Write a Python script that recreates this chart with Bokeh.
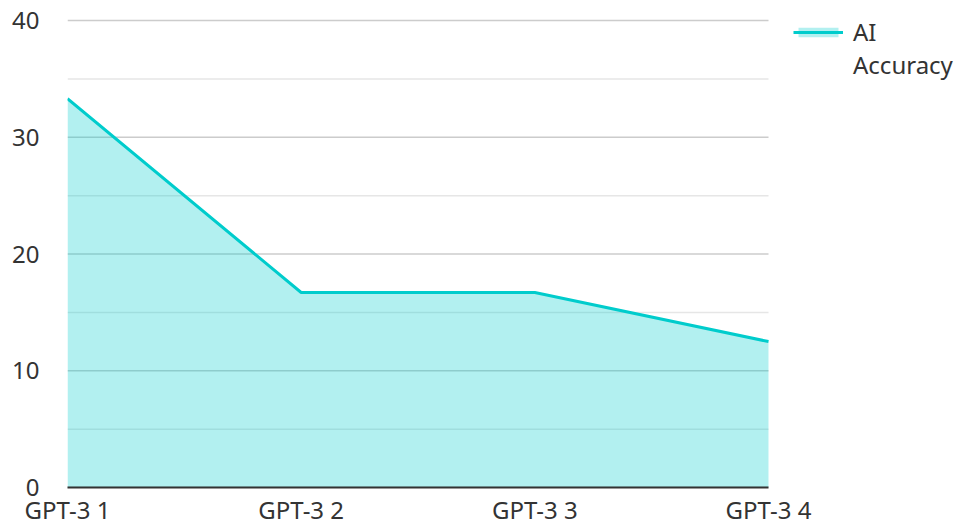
from bokeh.plotting import figure
from bokeh.models import Range1d, FixedTicker, Legend, LegendItem
from bokeh.embed import file_html
from bokeh.resources import INLINE

categories = ["GPT-3 1", "GPT-3 2", "GPT-3 3", "GPT-3 4"]
accuracy = [33.3, 16.7, 16.7, 12.5]
y_ticks = [0, 10, 20, 30, 40]
y_minor = [5, 15, 25, 35]
series_label = ["AI", "Accuracy"]

xs = list(range(len(categories)))
last = xs[-1]
FONT = "Noto Sans"
FS = "24px"

# frame spans the full canvas (top and right) so the legend can sit beside the data area;
# data area: x 67..768 px, y 20..487 px
p = figure(width=958, height=528, output_backend="svg", toolbar_location=None,
           x_range=Range1d(0, last * 891 / 701),
           y_range=Range1d(0, y_ticks[-1] * 487 / 467),
           min_border_left=67, min_border_top=0, min_border_right=0, min_border_bottom=41)
p.outline_line_color = None
p.background_fill_color = "white"
p.xgrid.visible = False
p.ygrid.visible = False

# horizontal grid lines limited to the data extent
p.segment(x0=[0] * len(y_minor), x1=[last] * len(y_minor), y0=y_minor, y1=y_minor,
          line_color="#e6e6e6", line_width=1.5)
p.segment(x0=[0] * len(y_ticks), x1=[last] * len(y_ticks), y0=y_ticks, y1=y_ticks,
          line_color="#cccccc", line_width=1.5)

area = p.varea(x=xs, y1=[0] * len(xs), y2=accuracy, fill_color="#00cccc", fill_alpha=0.3)
line = p.line(x=xs, y=accuracy, line_color="#00cccc", line_width=3)
dummy = p.line(x=[], y=[], line_alpha=0)

p.xaxis.ticker = FixedTicker(ticks=xs)
p.xaxis.bounds = (0, last)
p.xaxis.major_label_overrides = {i: c for i, c in enumerate(categories)}
p.xaxis.major_tick_line_color = None
p.xaxis.minor_tick_line_color = None
p.xaxis.major_tick_out = 0
p.xaxis.major_tick_in = 0
p.xaxis.axis_line_color = "#333333"
p.xaxis.axis_line_width = 2
p.xaxis.major_label_standoff = 5
p.xaxis.major_label_text_font = FONT
p.xaxis.major_label_text_font_size = FS
p.xaxis.major_label_text_color = "#333333"

p.yaxis.ticker = FixedTicker(ticks=y_ticks, minor_ticks=y_minor)
p.yaxis.axis_line_color = None
p.yaxis.major_tick_line_color = None
p.yaxis.minor_tick_line_color = None
p.yaxis.major_label_standoff = 22
p.yaxis.major_label_text_font = FONT
p.yaxis.major_label_text_font_size = FS
p.yaxis.major_label_text_color = "#333333"

legend = Legend(items=[LegendItem(label=series_label[0], renderers=[area, line]),
                       LegendItem(label=series_label[1], renderers=[dummy])],
                location=(726, 406), border_line_color=None, background_fill_alpha=0,
                glyph_width=50, glyph_height=12, margin=0, padding=0, spacing=-1,
                label_text_font=FONT, label_text_font_size=FS, label_text_color="#333333",
                label_standoff=10, label_height=20)
p.add_layout(legend, "center")

open("out.html", "w").write(file_html(p, INLINE))
